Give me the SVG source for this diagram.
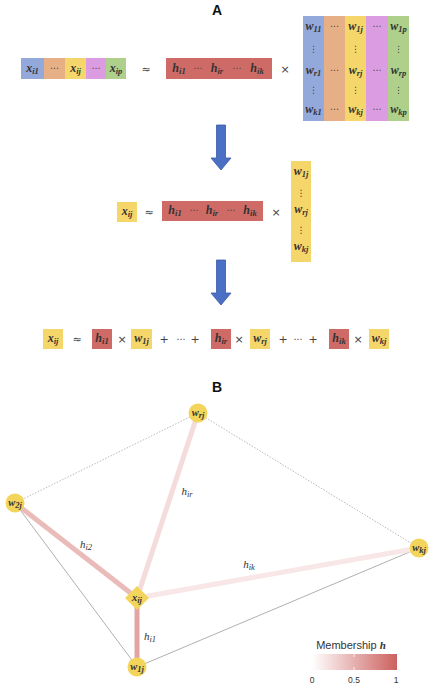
<svg xmlns="http://www.w3.org/2000/svg" width="435" height="685" viewBox="0 0 435 685">
<defs>
<linearGradient id="memb" x1="0" y1="0" x2="1" y2="0">
<stop offset="0" stop-color="#ffffff"/>
<stop offset="1" stop-color="#cc615e"/>
</linearGradient>
<style>
.m{font-family:"Liberation Serif",serif;font-style:italic;font-weight:bold;font-size:12px;fill:#333;text-anchor:middle}
.s{font-size:8.5px}
.d{font-family:"DejaVu Sans",sans-serif;font-size:9px;fill:#444;text-anchor:middle}
.op{font-family:"DejaVu Sans",sans-serif;font-size:11px;fill:#444;text-anchor:middle}
.ttl{font-family:"Liberation Sans",Arial,sans-serif;font-weight:bold;font-size:14px;fill:#111;text-anchor:middle}
.lbl{font-family:"Liberation Serif",serif;font-style:italic;font-size:11px;fill:#333;text-anchor:middle}
.bl{fill:#93a9db}.or{fill:#e7af86}.ye{fill:#f5d66a}.mg{fill:#dc9ce2}.gr{fill:#aed08b}.rd{fill:#cf6b66}
.arrow{fill:#4b6fc5;stroke:#3a5aa6;stroke-width:0.8}
.node{fill:#f3d55c}
.dot{stroke:#bbbbbb;stroke-width:1;stroke-dasharray:1.5 1.5;fill:none}
.sol{stroke:#b0b0b0;stroke-width:1;fill:none}
.leg{font-family:"Liberation Sans",Arial,sans-serif;font-size:10px;fill:#333;text-anchor:middle}
</style>
</defs>
<rect width="435" height="685" fill="#ffffff"/>

<text class="ttl" x="217" y="15">A</text>

<!-- Row 1: x vector -->
<g id="xrow">
<rect class="bl" x="21" y="58" width="23" height="21"/>
<rect class="or" x="44" y="58" width="21" height="21"/>
<rect class="ye" x="65" y="58" width="21" height="21"/>
<rect class="mg" x="86" y="58" width="20" height="21"/>
<rect class="gr" x="106" y="58" width="20" height="21"/>
<text class="m" x="32.5" y="72">x<tspan class="s" dy="2">i1</tspan></text>
<text class="d" x="54.5" y="71">⋯</text>
<text class="m" x="75.5" y="72">x<tspan class="s" dy="2">ij</tspan></text>
<text class="d" x="96" y="71">⋯</text>
<text class="m" x="116" y="72">x<tspan class="s" dy="2">ip</tspan></text>
</g>
<text class="op" x="146" y="73">≈</text>
<g id="hrow">
<rect class="rd" x="166" y="58" width="106" height="21"/>
<text class="m" x="179" y="72">h<tspan class="s" dy="2">i1</tspan></text>
<text class="d" x="198" y="71">⋯</text>
<text class="m" x="217" y="72">h<tspan class="s" dy="2">ir</tspan></text>
<text class="d" x="237" y="71">⋯</text>
<text class="m" x="257" y="72">h<tspan class="s" dy="2">ik</tspan></text>
</g>
<text class="op" x="285" y="73">×</text>
<g id="wmat">
<rect class="bl" x="303" y="16" width="21" height="105"/>
<rect class="or" x="324" y="16" width="21" height="105"/>
<rect class="ye" x="345" y="16" width="21" height="105"/>
<rect class="mg" x="366" y="16" width="22" height="105"/>
<rect class="gr" x="388" y="16" width="21" height="105"/>
<text class="m" x="313.5" y="30">w<tspan class="s" dy="2">11</tspan></text>
<text class="d" x="334.5" y="29">⋯</text>
<text class="m" x="355.5" y="30">w<tspan class="s" dy="2">1j</tspan></text>
<text class="d" x="377" y="29">⋯</text>
<text class="m" x="398.5" y="30">w<tspan class="s" dy="2">1p</tspan></text>
<text class="d" x="313.5" y="52">⋮</text>
<text class="d" x="355.5" y="52">⋮</text>
<text class="d" x="398.5" y="52">⋮</text>
<text class="m" x="313.5" y="74">w<tspan class="s" dy="2">r1</tspan></text>
<text class="d" x="334.5" y="73">⋯</text>
<text class="m" x="355.5" y="74">w<tspan class="s" dy="2">rj</tspan></text>
<text class="d" x="377" y="73">⋯</text>
<text class="m" x="398.5" y="74">w<tspan class="s" dy="2">rp</tspan></text>
<text class="d" x="313.5" y="93">⋮</text>
<text class="d" x="355.5" y="93">⋮</text>
<text class="d" x="398.5" y="93">⋮</text>
<text class="m" x="313.5" y="113">w<tspan class="s" dy="2">k1</tspan></text>
<text class="d" x="334.5" y="112">⋯</text>
<text class="m" x="355.5" y="113">w<tspan class="s" dy="2">kj</tspan></text>
<text class="d" x="377" y="112">⋯</text>
<text class="m" x="398.5" y="113">w<tspan class="s" dy="2">kp</tspan></text>
</g>

<!-- Arrows -->
<g id="arrow1"><path class="arrow" d="M216.5,125 H225.5 V158 H231 L221,170 L211,158 H216.5 Z"/></g>

<!-- Row 2 -->
<g id="row2">
<rect class="ye" x="117" y="202" width="20" height="20"/>
<text class="m" x="127" y="215">x<tspan class="s" dy="2">ij</tspan></text>
<text class="op" x="149" y="216">≈</text>
<rect class="rd" x="162" y="201" width="101" height="20"/>
<text class="m" x="175" y="214">h<tspan class="s" dy="2">i1</tspan></text>
<text class="d" x="194" y="213">⋯</text>
<text class="m" x="212" y="214">h<tspan class="s" dy="2">ir</tspan></text>
<text class="d" x="231" y="213">⋯</text>
<text class="m" x="250" y="214">h<tspan class="s" dy="2">ik</tspan></text>
<text class="op" x="276" y="216">×</text>
<rect class="ye" x="291" y="161" width="20" height="101"/>
<text class="m" x="301" y="175">w<tspan class="s" dy="2">1j</tspan></text>
<text class="d" x="301" y="196">⋮</text>
<text class="m" x="301" y="213">w<tspan class="s" dy="2">rj</tspan></text>
<text class="d" x="301" y="233">⋮</text>
<text class="m" x="301" y="250">w<tspan class="s" dy="2">kj</tspan></text>
</g>

<g id="arrow2"><path class="arrow" d="M216.5,260 H225.5 V293 H231 L221,305 L211,293 H216.5 Z"/></g>

<!-- Row 3 -->
<g id="row3">
<rect class="ye" x="43" y="329" width="20" height="20"/>
<text class="m" x="53" y="342">x<tspan class="s" dy="2">ij</tspan></text>
<text class="op" x="77" y="343">≈</text>
<rect class="rd" x="92" y="329" width="20" height="20"/>
<text class="m" x="102" y="342">h<tspan class="s" dy="2">i1</tspan></text>
<text class="op" x="122" y="343">×</text>
<rect class="ye" x="131" y="329" width="21" height="20"/>
<text class="m" x="141.5" y="342">w<tspan class="s" dy="2">1j</tspan></text>
<text class="op" x="164" y="343">+</text>
<text class="d" x="181" y="342">⋯</text>
<text class="op" x="195" y="343">+</text>
<rect class="rd" x="211" y="329" width="20" height="20"/>
<text class="m" x="221" y="342">h<tspan class="s" dy="2">ir</tspan></text>
<text class="op" x="239" y="343">×</text>
<rect class="ye" x="250" y="329" width="20" height="20"/>
<text class="m" x="260" y="342">w<tspan class="s" dy="2">rj</tspan></text>
<text class="op" x="283" y="343">+</text>
<text class="d" x="298" y="342">⋯</text>
<text class="op" x="313" y="343">+</text>
<rect class="rd" x="329" y="329" width="20" height="20"/>
<text class="m" x="339" y="342">h<tspan class="s" dy="2">ik</tspan></text>
<text class="op" x="358" y="343">×</text>
<rect class="ye" x="369" y="329" width="20" height="20"/>
<text class="m" x="379" y="342">w<tspan class="s" dy="2">kj</tspan></text>
</g>

<text class="ttl" x="217" y="392">B</text>

<!-- Connectors -->
<g id="connectors">
<line class="dot" x1="198" y1="413" x2="15" y2="503"/>
<line class="dot" x1="198" y1="413" x2="419" y2="548"/>
<line class="sol" x1="15" y1="503" x2="137" y2="667"/>
<line class="sol" x1="137" y1="667" x2="419" y2="548"/>
<line x1="198" y1="413" x2="137" y2="598" stroke="#f3dcdb" stroke-width="5"/>
<line x1="15" y1="503" x2="137" y2="598" stroke="#e9bcba" stroke-width="5"/>
<line x1="137" y1="598" x2="419" y2="548" stroke="#f8e7e6" stroke-width="5"/>
<line x1="137" y1="598" x2="137" y2="667" stroke="#e1a5a3" stroke-width="5"/>
<text class="lbl" x="187" y="495">h<tspan class="s" dy="2">ir</tspan></text>
<text class="lbl" x="86" y="548">h<tspan class="s" dy="2">i2</tspan></text>
<text class="lbl" x="249" y="568">h<tspan class="s" dy="2">ik</tspan></text>
<text class="lbl" x="150" y="640">h<tspan class="s" dy="2">i1</tspan></text>
</g>

<!-- Nodes -->
<g id="n_wrj"><circle class="node" cx="198" cy="413" r="9.5"/><text class="m" x="198" y="416" style="font-size:10.5px">w<tspan class="s" dy="2">rj</tspan></text></g>
<g id="n_w2j"><circle class="node" cx="15" cy="503" r="9.5"/><text class="m" x="15" y="506" style="font-size:10.5px">w<tspan class="s" dy="2">2j</tspan></text></g>
<g id="n_wkj"><circle class="node" cx="419" cy="548" r="9.5"/><text class="m" x="419" y="551" style="font-size:10.5px">w<tspan class="s" dy="2">kj</tspan></text></g>
<g id="n_w1j"><circle class="node" cx="137" cy="667" r="9.5"/><text class="m" x="137" y="670" style="font-size:10.5px">w<tspan class="s" dy="2">1j</tspan></text></g>
<g id="n_xij"><path class="node" d="M137,586 L149,598 L137,610 L125,598 Z"/><text class="m" x="137" y="601" style="font-size:10.5px">x<tspan class="s" dy="2">ij</tspan></text></g>

<!-- Legend -->
<g id="legend">
<text class="leg" x="351" y="649" style="font-size:11px">Membership <tspan style="font-family:'Liberation Serif',serif;font-style:italic;font-weight:bold">h</tspan></text>
<rect x="312" y="654" width="85" height="16" fill="url(#memb)"/>
<line x1="354" y1="654" x2="354" y2="657" stroke="#fff" stroke-width="0.8"/>
<line x1="354" y1="667" x2="354" y2="670" stroke="#fff" stroke-width="0.8"/>
<text class="leg" x="312" y="683" style="font-size:8.5px">0</text>
<text class="leg" x="354" y="683" style="font-size:8.5px">0.5</text>
<text class="leg" x="396" y="683" style="font-size:8.5px">1</text>
</g>
</svg>
